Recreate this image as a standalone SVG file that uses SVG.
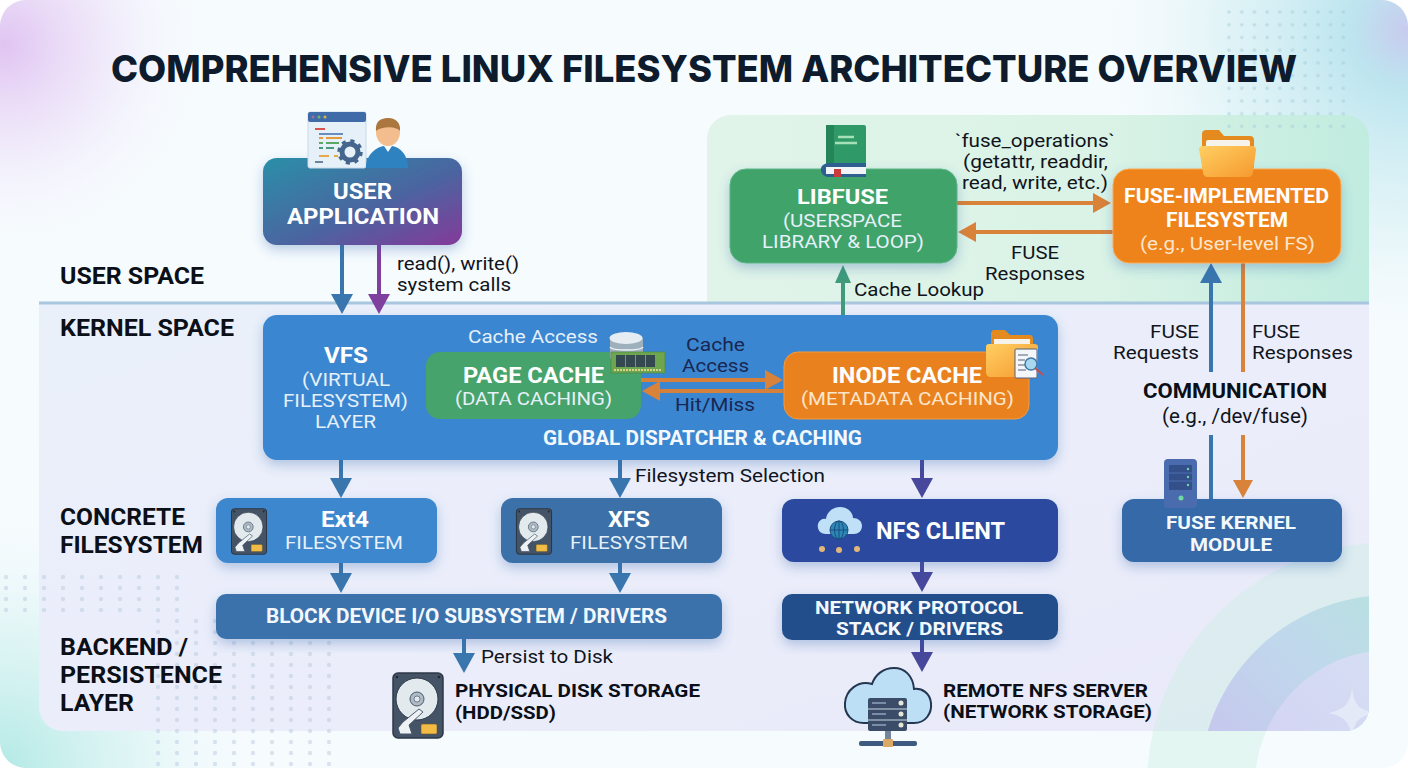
<svg xmlns="http://www.w3.org/2000/svg" width="1408" height="768" viewBox="0 0 1408 768">
<style>
text{font-family:Roboto,"Liberation Sans",sans-serif}
.title{font-family:Inter,"Liberation Sans",sans-serif;font-weight:800;font-size:37px;fill:#0d1b2c}
.sec{font-weight:700;font-size:24px;fill:#0b0f17}
.h{font-weight:700;font-size:22px;fill:#fff}
.h2{font-weight:700;font-size:18.500px;fill:#f3f8fd}
.s{font-weight:400;font-size:18.500px;fill:#e6f0fa}
.so{font-weight:400;font-size:18.500px;fill:#fde6cc}
.l{font-weight:400;font-size:18.500px;fill:#10141c}
.n{font-weight:400;font-size:18.500px;fill:#1a2752}
.b{font-weight:700;font-size:18.500px;fill:#0b0f17}
.shadow{filter:url(#sh)}
.ln{fill:none;stroke-width:4}
</style>
<defs>
<clipPath id="canvas"><rect width="1408" height="768" rx="26"/></clipPath>
<clipPath id="panel"><rect x="39" y="115" width="1330" height="616" rx="24"/></clipPath>
<clipPath id="ringclip"><rect x="0" y="400" width="1369" height="368"/></clipPath>
<radialGradient id="gPurple" gradientUnits="userSpaceOnUse" cx="5" cy="45" r="205"><stop offset="0" stop-color="#e0c4f2"/><stop offset=".45" stop-color="#ebdcf7" stop-opacity=".65"/><stop offset="1" stop-color="#f5fafd" stop-opacity="0"/></radialGradient>
<radialGradient id="gTealL" gradientUnits="userSpaceOnUse" cx="0" cy="768" r="265"><stop offset="0" stop-color="#b2e9e5"/><stop offset=".5" stop-color="#d3f2f0" stop-opacity=".65"/><stop offset="1" stop-color="#f5fafd" stop-opacity="0"/></radialGradient>
<radialGradient id="gTealR" gradientUnits="userSpaceOnUse" cx="1408" cy="30" r="320"><stop offset="0" stop-color="#c8cbee"/><stop offset=".18" stop-color="#bde5ef"/><stop offset=".6" stop-color="#d8f1f4" stop-opacity=".65"/><stop offset="1" stop-color="#f5fafd" stop-opacity="0"/></radialGradient>
<linearGradient id="gKernel" x1="0" y1="0" x2="1" y2="1"><stop offset="0" stop-color="#eaf0fa"/><stop offset=".6" stop-color="#ebedfa"/><stop offset="1" stop-color="#e9e9f9"/></linearGradient>
<linearGradient id="gGreen" x1="0" y1="0" x2="1" y2="0"><stop offset="0" stop-color="#e1f4e9"/><stop offset=".6" stop-color="#daf3e6"/><stop offset="1" stop-color="#c0ecdf"/></linearGradient>
<linearGradient id="gUser" x1="0" y1="0" x2="1" y2="1"><stop offset="0" stop-color="#2a8fa8"/><stop offset=".55" stop-color="#4a65a0"/><stop offset="1" stop-color="#843a9a"/></linearGradient>
<linearGradient id="gMid" x1="0" y1="1" x2="1" y2="0"><stop offset=".15" stop-color="#cbbaef"/><stop offset=".55" stop-color="#c0d8ec"/><stop offset=".85" stop-color="#b4e6da"/></linearGradient>
<linearGradient id="gIn" x1="0" y1="1" x2="1" y2="0"><stop offset=".1" stop-color="#d3cdf3"/><stop offset="1" stop-color="#d6e6f3"/></linearGradient>
<linearGradient id="gFold" x1="0" y1="0" x2="1" y2="1"><stop offset="0" stop-color="#ffcf62"/><stop offset="1" stop-color="#f6992e"/></linearGradient>
<filter id="sh" x="-15%" y="-20%" width="130%" height="150%"><feDropShadow dx="0" dy="5" stdDeviation="6" flood-color="#2f5fa8" flood-opacity=".3"/></filter>
<pattern id="dotsA" width="19" height="11" patternUnits="userSpaceOnUse" x="3" y="2"><circle cx="3" cy="3" r="2.200" fill="#b4c6dc" opacity=".45"/></pattern>
<pattern id="dotsB" width="12.700" height="12.700" patternUnits="userSpaceOnUse" x="1226" y="9"><circle cx="3" cy="3" r="1.900" fill="#9fc9d8" opacity=".45"/></pattern>
<marker id="aBlue" viewBox="0 0 20 22" markerWidth="20" markerHeight="22" refX="2" refY="11" orient="auto" markerUnits="userSpaceOnUse"><path d="M0 0L20 11L0 22Z" fill="#3a76ae"/></marker>
<marker id="aPurple" viewBox="0 0 20 22" markerWidth="20" markerHeight="22" refX="2" refY="11" orient="auto" markerUnits="userSpaceOnUse"><path d="M0 0L20 11L0 22Z" fill="#7f3f9e"/></marker>
<marker id="aIndigo" viewBox="0 0 20 22" markerWidth="20" markerHeight="22" refX="2" refY="11" orient="auto" markerUnits="userSpaceOnUse"><path d="M0 0L20 11L0 22Z" fill="#47479c"/></marker>
<marker id="aGreen" viewBox="0 0 18 16" markerWidth="18" markerHeight="16" refX="2" refY="8" orient="auto" markerUnits="userSpaceOnUse"><path d="M0 0L18 8L0 16Z" fill="#3f9b7a"/></marker>
<marker id="aOrange" viewBox="0 0 18 20" markerWidth="18" markerHeight="20" refX="2" refY="10" orient="auto" markerUnits="userSpaceOnUse"><path d="M0 0L18 10L0 20Z" fill="#d9823a"/></marker>
<symbol id="disk" viewBox="0 0 52 67">
<rect x="1" y="1" width="50" height="65" rx="5" fill="#445365" stroke="#2c3847" stroke-width="1.500"/>
<circle cx="25" cy="27" r="21" fill="#e2eaee" stroke="#2c3847" stroke-width="1"/>
<circle cx="25" cy="27" r="7" fill="#aebbc4" stroke="#4a5a6c"/><circle cx="25" cy="27" r="3" fill="#e2eaee" stroke="#4a5a6c" stroke-width=".7"/>
<path d="M27 37L11 50L6 56L8 62L20 62L17 53L31 40Z" fill="#eef2f4" stroke="#4a5a6c"/>
<rect x="29" y="52" width="16" height="10" rx="1.500" fill="#f2bb45" stroke="#6b5b2a" stroke-width=".6"/>
<circle cx="5" cy="5" r="1.300" fill="#1f2833"/><circle cx="47" cy="5" r="1.300" fill="#1f2833"/>
</symbol>
</defs>

<g id="background" clip-path="url(#canvas)">
<rect width="1408" height="768" fill="#f6fbfe"/>
<rect width="1408" height="768" fill="url(#gPurple)"/>
<rect width="1408" height="768" fill="url(#gTealL)"/>
<rect width="1408" height="768" fill="url(#gTealR)"/>
<rect x="1226" y="9" width="122" height="128" fill="url(#dotsB)"/>
<path d="M39 303H1369V707a24 24 0 0 1-24 24H63a24 24 0 0 1-24-24Z" fill="url(#gKernel)"/>
<path d="M707 303V139a24 24 0 0 1 24-24H1345a24 24 0 0 1 24 24V303Z" fill="url(#gGreen)"/>
<rect x="1226" y="115" width="122" height="22" fill="url(#dotsB)"/>
<rect x="0" y="571" width="180" height="45" fill="url(#dotsA)"/>
<rect x="155" y="618" width="178" height="150" fill="url(#dotsA)"/>
<g clip-path="url(#ringclip)"><circle cx="1390" cy="785" r="189" fill="none" stroke="#c6eee0" stroke-width="108" opacity=".38"/></g>
<g clip-path="url(#panel)">
<circle cx="1390" cy="785" r="190" fill="url(#gMid)"/>
<circle cx="1390" cy="785" r="135" fill="url(#gIn)"/>
<path d="M1352 688C1354 704 1358 710 1376 713C1358 716 1354 722 1352 738C1350 722 1344 716 1328 713C1344 710 1350 704 1352 688Z" fill="#eef3fb" opacity=".6"/>
</g>
<rect x="39" y="301.500" width="1330" height="3" fill="#a8c6dd"/>
</g>

<text class="title" x="111" y="82" textLength="1186" lengthAdjust="spacingAndGlyphs">COMPREHENSIVE LINUX FILESYSTEM ARCHITECTURE OVERVIEW</text>

<g id="layer-labels">
<text class="sec" x="60" y="284" textLength="144" lengthAdjust="spacingAndGlyphs">USER SPACE</text>
<text class="sec" x="60" y="336" textLength="174" lengthAdjust="spacingAndGlyphs">KERNEL SPACE</text>
<text class="sec" x="60" y="525" textLength="125" lengthAdjust="spacingAndGlyphs">CONCRETE</text>
<text class="sec" x="60" y="553" textLength="143" lengthAdjust="spacingAndGlyphs">FILESYSTEM</text>
<text class="sec" x="60" y="655" textLength="128" lengthAdjust="spacingAndGlyphs">BACKEND /</text>
<text class="sec" x="60" y="683" textLength="162" lengthAdjust="spacingAndGlyphs">PERSISTENCE</text>
<text class="sec" x="60" y="711" textLength="74" lengthAdjust="spacingAndGlyphs">LAYER</text>
</g>

<g id="connectors">
<path class="ln" d="M342 245V296" stroke="#3a76ae" marker-end="url(#aBlue)"/>
<path class="ln" d="M379 245V296" stroke="#7f3f9e" marker-end="url(#aPurple)"/>
<path class="ln" d="M843 315V281" stroke="#3f9b7a" marker-end="url(#aGreen)"/>
<path class="ln" d="M957 203H1095" stroke="#d9823a" marker-end="url(#aOrange)"/>
<path class="ln" d="M1113 232H974" stroke="#d9823a" marker-end="url(#aOrange)"/>
<path class="ln" d="M1211 372V281" stroke="#3a76ae" marker-end="url(#aBlue)"/>
<path class="ln" d="M1211 499V435" stroke="#3a76ae"/>
<path class="ln" d="M1243 263V372" stroke="#d9823a"/>
<path class="ln" d="M1243 435V482" stroke="#d9823a" marker-end="url(#aOrange)"/>
<path class="ln" d="M341 459V480" stroke="#3a76ae" marker-end="url(#aBlue)"/>
<path class="ln" d="M620 459V480" stroke="#3a76ae" marker-end="url(#aBlue)"/>
<path class="ln" d="M922 459V480" stroke="#47479c" marker-end="url(#aIndigo)"/>
<path class="ln" d="M341 563V575" stroke="#3a76ae" marker-end="url(#aBlue)"/>
<path class="ln" d="M620 563V575" stroke="#3a76ae" marker-end="url(#aBlue)"/>
<path class="ln" d="M464 639V655" stroke="#3a76ae" marker-end="url(#aBlue)"/>
<path class="ln" d="M922 562V574" stroke="#47479c" marker-end="url(#aIndigo)"/>
<path class="ln" d="M922 640V654" stroke="#47479c" marker-end="url(#aIndigo)"/>
<text class="l" x="397" y="270" textLength="122" lengthAdjust="spacingAndGlyphs">read(), write()</text>
<text class="l" x="397" y="291" textLength="114" lengthAdjust="spacingAndGlyphs">system calls</text>
<text class="l" x="854" y="296" textLength="130" lengthAdjust="spacingAndGlyphs">Cache Lookup</text>
<text class="l" x="955" y="147" textLength="160" lengthAdjust="spacingAndGlyphs">`fuse_operations`</text>
<text class="l" x="963" y="168" textLength="145" lengthAdjust="spacingAndGlyphs">(getattr, readdir,</text>
<text class="l" x="962" y="189" textLength="146" lengthAdjust="spacingAndGlyphs">read, write, etc.)</text>
<text class="l" x="1011" y="259" textLength="48" lengthAdjust="spacingAndGlyphs">FUSE</text>
<text class="l" x="985" y="280" textLength="100" lengthAdjust="spacingAndGlyphs">Responses</text>
<text class="l" x="1150" y="338" textLength="49" lengthAdjust="spacingAndGlyphs">FUSE</text>
<text class="l" x="1113" y="359" textLength="86" lengthAdjust="spacingAndGlyphs">Requests</text>
<text class="l" x="1252" y="338" textLength="48" lengthAdjust="spacingAndGlyphs">FUSE</text>
<text class="l" x="1252" y="359" textLength="101" lengthAdjust="spacingAndGlyphs">Responses</text>
<text class="l" x="635" y="482" textLength="190" lengthAdjust="spacingAndGlyphs">Filesystem Selection</text>
<text class="l" x="481" y="663" textLength="132" lengthAdjust="spacingAndGlyphs">Persist to Disk</text>
</g>

<g id="communication">
<text class="b" x="1143" y="398" style="font-size:21px" textLength="184" lengthAdjust="spacingAndGlyphs">COMMUNICATION</text>
<text class="l" x="1162" y="423" style="font-size:21px" textLength="146" lengthAdjust="spacingAndGlyphs">(e.g., /dev/fuse)</text>
</g>

<g id="user-application">
<rect class="shadow" x="263" y="158" width="199" height="87" rx="14" fill="url(#gUser)"/>
<rect x="308" y="112" width="58" height="56" rx="2" fill="#e6f0f9" stroke="#c9d9ea"/>
<rect x="308" y="112" width="58" height="10" rx="2" fill="#3f6ca8"/>
<circle cx="313" cy="117" r="1.500" fill="#a66aa8"/><circle cx="319" cy="117" r="1.500" fill="#7ab26a"/><circle cx="325" cy="117" r="1.500" fill="#e0b040"/>
<path d="M315 129h10" stroke="#d9534f" stroke-width="2"/><path d="M319 134h24" stroke="#3f6ca8" stroke-width="1.500"/><path d="M319 138h4M326 138h16" stroke="#e59a3c" stroke-width="2"/><path d="M319 143h4M326 143h13" stroke="#5aaa66" stroke-width="2"/><path d="M319 148h4M326 148h8" stroke="#4a9a78" stroke-width="2"/><path d="M319 156h10M334 156h4" stroke="#e8a84c" stroke-width="2"/><path d="M315 162h8" stroke="#44607f" stroke-width="1.500"/>
<circle cx="350" cy="152" r="8" fill="none" stroke="#44658c" stroke-width="5"/><circle cx="350" cy="152" r="11" fill="none" stroke="#44658c" stroke-width="3.500" stroke-dasharray="4 4.640"/>
<path d="M366 168C366 155 376 147 384 146L388 152L392 146C400 147 408 155 408 168Z" fill="#2f82c0"/>
<ellipse cx="388" cy="132" rx="12" ry="14" fill="#f3bd8d"/>
<path d="M376 131C375 121 381 118 388 118C395 118 401 122 400 131C396 126 382 126 376 131Z" fill="#ab773e"/>
<text class="h" x="333" y="199" textLength="59" lengthAdjust="spacingAndGlyphs">USER</text>
<text class="h" x="287" y="224" textLength="152" lengthAdjust="spacingAndGlyphs">APPLICATION</text>
</g>

<g id="libfuse">
<rect class="shadow" x="730" y="169" width="227" height="94" rx="16" fill="#40a36b" stroke="#5cb586" stroke-width="1"/>
<rect x="826" y="125" width="40" height="44" rx="2" fill="#2f9a68"/><rect x="826" y="125" width="8" height="44" fill="#25855a"/>
<path d="M838 137h16M835 143h22" stroke="#a6e0b8" stroke-width="2.500"/>
<path d="M866 163H830C823 163 820 167 821 171C822 175 825 177 830 177H866Z" fill="#2f5f90"/>
<rect x="826" y="167" width="40" height="7" fill="#f2f5f7"/>
<rect x="834" y="169" width="7" height="8" fill="#cc3b3b"/>
<text class="h" x="797" y="204" style="font-size:21px" textLength="91" lengthAdjust="spacingAndGlyphs">LIBFUSE</text>
<text class="s" x="783" y="227" textLength="119" lengthAdjust="spacingAndGlyphs">(USERSPACE</text>
<text class="s" x="762" y="248" textLength="162" lengthAdjust="spacingAndGlyphs">LIBRARY &amp; LOOP)</text>
</g>

<g id="fuse-implemented-filesystem">
<rect class="shadow" x="1113" y="169" width="228" height="94" rx="16" fill="#ee831f" stroke="#f8a94d" stroke-width="1"/>
<path d="M1202 168V134C1202 131 1204 130 1206 130H1219L1224 136H1250C1253 136 1254 138 1254 140V168Z" fill="#e58a1e"/>
<rect x="1206" y="140" width="44" height="16" rx="2" fill="#f6f3ea"/>
<path d="M1199 149C1199 147 1201 146 1203 146H1252C1255 146 1256 148 1256 150L1253 172C1253 175 1251 177 1248 177H1208C1205 177 1203 175 1203 172Z" fill="url(#gFold)"/>
<text class="h" x="1124" y="203" style="font-size:19.500px" textLength="205" lengthAdjust="spacingAndGlyphs">FUSE-IMPLEMENTED</text>
<text class="h" x="1166" y="227" style="font-size:19.500px" textLength="122" lengthAdjust="spacingAndGlyphs">FILESYSTEM</text>
<text class="so" x="1140" y="250" textLength="175" lengthAdjust="spacingAndGlyphs">(e.g., User-level FS)</text>
</g>

<g id="vfs">
<rect class="shadow" x="263" y="315" width="795" height="145" rx="14" fill="#3a86d0"/>
<text class="h" x="324" y="363" textLength="44" lengthAdjust="spacingAndGlyphs">VFS</text>
<text class="s" x="302" y="386" textLength="88" lengthAdjust="spacingAndGlyphs">(VIRTUAL</text>
<text class="s" x="283" y="407" textLength="125" lengthAdjust="spacingAndGlyphs">FILESYSTEM)</text>
<text class="s" x="315" y="428" textLength="61" lengthAdjust="spacingAndGlyphs">LAYER</text>
<text class="s" x="468" y="343" textLength="130" lengthAdjust="spacingAndGlyphs">Cache Access</text>
<text class="h2" x="543" y="445" style="font-size:20px" textLength="319" lengthAdjust="spacingAndGlyphs">GLOBAL DISPATCHER &amp; CACHING</text>
</g>

<g id="page-cache">
<rect x="426" y="352" width="215" height="67" rx="14" fill="#46a36b"/>
<text class="h" x="463" y="383" textLength="141" lengthAdjust="spacingAndGlyphs">PAGE CACHE</text>
<text class="s" x="455" y="405" textLength="157" lengthAdjust="spacingAndGlyphs">(DATA CACHING)</text>
<path d="M610 338V358C610 362 643 362 643 358V338Z" fill="#9fb0bd"/>
<ellipse cx="626" cy="338" rx="16.500" ry="6" fill="#e6edf2"/>
<path d="M610 347C612 351 641 351 643 347" fill="none" stroke="#eef3f6" stroke-width="1.500"/>
<rect x="611" y="352" width="54" height="21" fill="#6ea64f" stroke="#4e8a42" stroke-width=".7"/>
<rect x="616" y="355" width="9" height="12" fill="#33484f"/><rect x="626" y="355" width="9" height="12" fill="#33484f"/><rect x="636" y="355" width="9" height="12" fill="#33484f"/><rect x="646" y="355" width="9" height="12" fill="#33484f"/>
<path d="M614 370H662" stroke="#d8d28a" stroke-width="2" stroke-dasharray="2 1"/>
</g>

<g id="inode-cache">
<rect x="784" y="352" width="245" height="67" rx="14" fill="#e9811f" stroke="#f39a3f" stroke-width="1"/>
<text class="h" x="832" y="383" textLength="150" lengthAdjust="spacingAndGlyphs">INODE CACHE</text>
<text class="so" x="801" y="405" textLength="213" lengthAdjust="spacingAndGlyphs">(METADATA CACHING)</text>
<path d="M991 370V334C991 332 992 330 994 330H1005L1010 335H1030C1032 335 1033 337 1033 339V370Z" fill="#e58a1e"/>
<rect x="994" y="339" width="36" height="10" fill="#f6f3ea"/>
<path d="M986 347C986 345 987 344 989 344H1034C1037 344 1038 345 1038 347V372C1038 375 1036 377 1033 377H991C988 377 986 375 986 372Z" fill="url(#gFold)"/>
<rect x="1015" y="349" width="22" height="29" rx="1" fill="#f4f6f9" stroke="#51627a" stroke-width="1"/>
<path d="M1018 355h10M1018 360h7M1018 365h7M1018 370h8" stroke="#51627a" stroke-width="1.200"/>
<circle cx="1031" cy="364" r="6" fill="#a8d8f0" stroke="#3f78a8" stroke-width="1.500"/><path d="M1035 368L1043 375" stroke="#c0504f" stroke-width="2"/>
</g>

<g id="cache-arrows">
<path class="ln" d="M641 380H767" stroke="#d5813c" marker-end="url(#aOrange)"/>
<path class="ln" d="M784 391H658" stroke="#d5813c" marker-end="url(#aOrange)"/>
<text class="n" x="686" y="351" textLength="59" lengthAdjust="spacingAndGlyphs">Cache</text>
<text class="n" x="682" y="372" textLength="67" lengthAdjust="spacingAndGlyphs">Access</text>
<text class="n" x="675" y="411" textLength="80" lengthAdjust="spacingAndGlyphs">Hit/Miss</text>
</g>

<g id="ext4">
<rect class="shadow" x="216" y="498" width="221" height="65" rx="12" fill="#3c87cf"/>
<use href="#disk" x="230" y="508" width="38" height="47"/>
<text class="h" x="321" y="527" textLength="48" lengthAdjust="spacingAndGlyphs">Ext4</text>
<text class="s" x="285" y="549" textLength="118" lengthAdjust="spacingAndGlyphs">FILESYSTEM</text>
</g>

<g id="xfs">
<rect class="shadow" x="501" y="498" width="221" height="65" rx="12" fill="#3a70a8"/>
<use href="#disk" x="515" y="508" width="38" height="47"/>
<text class="h" x="608" y="527" textLength="42" lengthAdjust="spacingAndGlyphs">XFS</text>
<text class="s" x="570" y="549" textLength="118" lengthAdjust="spacingAndGlyphs">FILESYSTEM</text>
</g>

<g id="nfs-client">
<rect class="shadow" x="782" y="499" width="276" height="63" rx="12" fill="#2b4a9f"/>
<path d="M826 534C819 534 817 528 818 524C819 520 823 518 826 519C827 511 834 507 840 507C848 507 853 513 853 518C858 518 862 521 862 526C862 531 858 534 854 534Z" fill="#bfe0f6"/>
<circle cx="839" cy="530" r="9" fill="#2e86b4" stroke="#174f80"/>
<path d="M839 521V539M830 530H848" stroke="#174f80" stroke-width="1"/><ellipse cx="839" cy="530" rx="4.500" ry="9" fill="none" stroke="#174f80" stroke-width="1"/>
<circle cx="822" cy="549" r="3" fill="#e3b77a"/><circle cx="839" cy="550" r="3" fill="#e3b77a"/><circle cx="857" cy="549" r="3" fill="#e3b77a"/>
<text class="h" x="876" y="539" style="font-size:24px" textLength="129" lengthAdjust="spacingAndGlyphs">NFS CLIENT</text>
</g>

<g id="fuse-kernel-module">
<rect class="shadow" x="1122" y="499" width="220" height="63" rx="12" fill="#3569a8"/>
<rect x="1164" y="459" width="33" height="49" rx="4" fill="#4a6cae"/>
<rect x="1169" y="465" width="23" height="25" rx="1" fill="#34508a"/>
<path d="M1169 473H1192M1169 481H1192" stroke="#4a6cae" stroke-width="1"/>
<circle cx="1188" cy="469" r="1.200" fill="#6fd8a0"/><circle cx="1188" cy="477" r="1.200" fill="#6fd8a0"/><circle cx="1188" cy="485" r="1.200" fill="#6fd8a0"/><circle cx="1181" cy="498" r="2.500" fill="#6fd8a0"/>
<text class="h2" x="1166" y="529" textLength="130" lengthAdjust="spacingAndGlyphs">FUSE KERNEL</text>
<text class="h2" x="1190" y="551" textLength="82" lengthAdjust="spacingAndGlyphs">MODULE</text>
</g>

<g id="block-device">
<rect class="shadow" x="216" y="594" width="506" height="45" rx="10" fill="#3a72ab"/>
<text class="h2" x="266" y="623" style="font-size:20px" textLength="401" lengthAdjust="spacingAndGlyphs">BLOCK DEVICE I/O SUBSYSTEM / DRIVERS</text>
</g>

<g id="network-protocol">
<rect class="shadow" x="782" y="594" width="276" height="46" rx="10" fill="#24508c"/>
<text class="h2" x="815" y="614" textLength="208" lengthAdjust="spacingAndGlyphs">NETWORK PROTOCOL</text>
<text class="h2" x="836" y="635" textLength="167" lengthAdjust="spacingAndGlyphs">STACK / DRIVERS</text>
</g>

<g id="physical-disk">
<use href="#disk" x="392" y="672" width="52" height="67"/>
<text class="b" x="455" y="697" textLength="245" lengthAdjust="spacingAndGlyphs">PHYSICAL DISK STORAGE</text>
<text class="b" x="455" y="719" textLength="101" lengthAdjust="spacingAndGlyphs">(HDD/SSD)</text>
</g>

<g id="remote-nfs-server">
<path d="M864 723H914C926 723 932 713 931 703C930 693 922 688 914 689C913 676 905 668 894 668C883 668 875 675 872 684C858 680 846 690 845 703C844 714 852 723 864 723Z" fill="#bcdff6" stroke="#243650" stroke-width="2"/>
<rect x="868" y="698" width="39" height="33" rx="2" fill="#3a4c68"/>
<path d="M868 709H907M868 720H907" stroke="#c8d6e4" stroke-width="1"/>
<path d="M872 703h14M872 714h14M872 725h14" stroke="#8fa4ba" stroke-width="1.500"/>
<circle cx="901" cy="703" r="2.500" fill="#e6e6d6"/><circle cx="901" cy="714" r="2.500" fill="#e6e6d6"/><circle cx="901" cy="725" r="2.500" fill="#e6e6d6"/>
<rect x="885" y="731" width="6" height="10" fill="#74859a"/>
<rect x="859" y="741" width="58" height="5" rx="2" fill="#3f5a80"/>
<rect x="883" y="739" width="10" height="8" rx="1" fill="#dca866"/>
<text class="b" x="943" y="697" textLength="205" lengthAdjust="spacingAndGlyphs">REMOTE NFS SERVER</text>
<text class="b" x="943" y="718" textLength="209" lengthAdjust="spacingAndGlyphs">(NETWORK STORAGE)</text>
</g>
</svg>
